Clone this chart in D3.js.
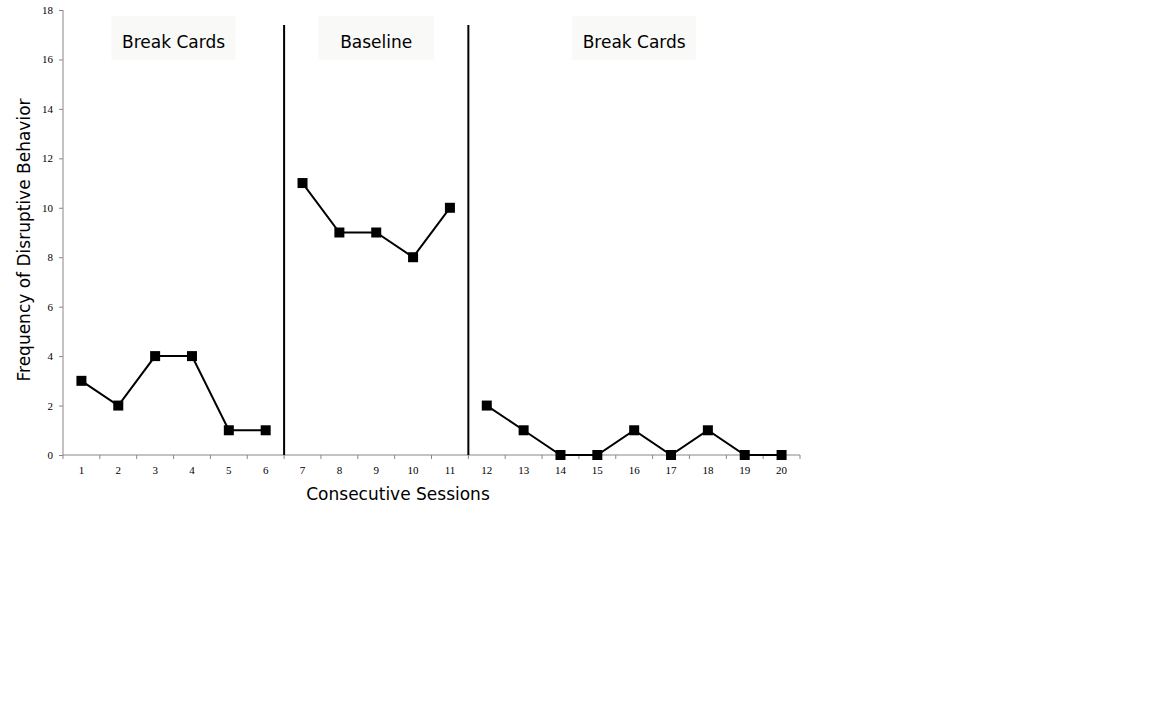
<!DOCTYPE html>
<html><head><meta charset="utf-8">
<script src="https://cdn.jsdelivr.net/npm/d3@7"></script>
<style>body{margin:0;background:#fff}</style>
</head><body>
<svg width="1152" height="720"></svg>
<script>
const sessions = d3.range(1, 21);
const frequency = [3, 2, 4, 4, 1, 1, 11, 9, 9, 8, 10, 2, 1, 0, 0, 1, 0, 1, 0, 0];
const phases = [
  {label: "Break Cards", from: 1, to: 6},
  {label: "Baseline", from: 7, to: 11},
  {label: "Break Cards", from: 12, to: 20}
];
const yTicks = d3.range(0, 19, 2);

const svg = d3.select("svg");
const x = d3.scaleBand().domain(sessions).range([63, 800]);
const y = d3.scaleLinear().domain([0, 18]).range([455, 10]);

// y axis
const ya = svg.append("g").attr("transform", "translate(63,0)")
  .call(d3.axisLeft(y).tickValues(yTicks).tickSize(4).tickPadding(6));
ya.selectAll("text").style("font-family", "Liberation Serif").style("font-size", "11px").attr("fill", "#000");
ya.selectAll("line,path").attr("stroke", "#888");
ya.select(".domain").attr("d", "M0,455V10");

// x axis with ticks between categories
const xa = svg.append("g").attr("transform", "translate(0,455)");
xa.append("line").attr("x1", 63).attr("x2", 800).attr("stroke", "#888");
xa.selectAll(".tk").data(sessions.concat([21])).enter().append("line")
  .attr("x1", d => d <= 20 ? x(d) : x.range()[1]).attr("x2", d => d <= 20 ? x(d) : x.range()[1])
  .attr("y1", 0).attr("y2", 4).attr("stroke", "#888");
xa.selectAll(".lb").data(sessions).enter().append("text")
  .attr("x", d => x(d) + x.bandwidth() / 2).attr("y", 19)
  .attr("text-anchor", "middle").style("font-family", "Liberation Serif").style("font-size", "11px")
  .text(d => d);

// phase change lines
phases.slice(1).forEach(p => {
  svg.append("line").attr("x1", x(p.from)).attr("x2", x(p.from))
    .attr("y1", 25).attr("y2", 455).attr("stroke", "#000").attr("stroke-width", 2);
});

// phase labels
phases.forEach(p => {
  const cx = (x(p.from) + x(p.to) + x.bandwidth()) / 2;
  const bx = p.label === "Baseline" ? 58 : 62;
  svg.append("rect").attr("x", cx - bx).attr("y", 16).attr("width", bx * 2).attr("height", 44).attr("fill", "#f9f9f7");
  svg.append("text").attr("x", cx).attr("y", 48).attr("text-anchor", "middle")
    .style("font-family", "DejaVu Sans").style("font-size", "17px").text(p.label);
});

// data lines per phase
const line = d3.line().x(d => x(d.s) + x.bandwidth() / 2).y(d => y(d.v));
phases.forEach(p => {
  const pts = sessions.filter(s => s >= p.from && s <= p.to).map(s => ({s, v: frequency[s - 1]}));
  svg.append("path").datum(pts).attr("d", line).attr("fill", "none").attr("stroke", "#000").attr("stroke-width", 2);
});
svg.selectAll(".pt").data(sessions).enter().append("rect")
  .attr("x", d => x(d) + x.bandwidth() / 2 - 5).attr("y", d => y(frequency[d - 1]) - 5)
  .attr("width", 10).attr("height", 10).attr("fill", "#000");

// axis titles
svg.append("text").attr("x", 398).attr("y", 500).attr("text-anchor", "middle")
  .style("font-family", "DejaVu Sans").style("font-size", "17px").text("Consecutive Sessions");
svg.append("text").attr("transform", "translate(30,240) rotate(-90)").attr("text-anchor", "middle")
  .style("font-family", "DejaVu Sans").style("font-size", "17px").text("Frequency of Disruptive Behavior");
</script>
</body></html>
